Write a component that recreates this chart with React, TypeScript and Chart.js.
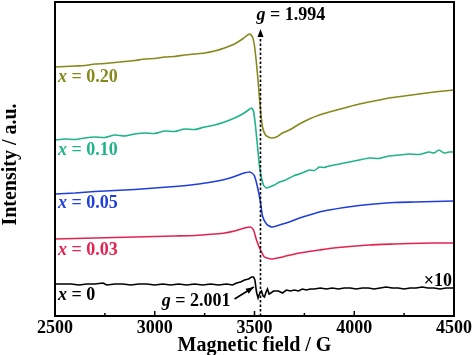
import React, { useEffect, useRef } from "react";
import { Chart, registerables } from "chart.js";

Chart.register(...registerables);

// Magnetic field (G) and EPR intensity (a.u., offset traces)
const fieldX020 = [2500, 2550, 2600, 2650, 2700, 2750, 2800, 2850, 2900, 2950, 3000, 3050, 3100, 3150, 3200, 3250, 3300, 3350, 3400, 3440, 3475, 3490, 3500, 3515, 3530, 3540, 3555, 3570, 3585, 3610, 3640, 3675, 3725, 3775, 3825, 3875, 3950, 4025, 4100, 4175, 4250, 4325, 4400, 4450, 4500];
const intX020 = [249, 249.5, 250, 250.5, 252, 252.5, 253.5, 254.5, 255.5, 257, 257.5, 259, 259.5, 261, 262, 263, 265, 268, 272, 277, 282, 279, 270, 242, 206, 189, 181, 179, 178, 179, 183, 186, 192, 197, 201, 204, 208, 212, 215, 218, 220, 222, 224, 225, 226];

const fieldX010 = [2500, 2550, 2600, 2650, 2700, 2750, 2800, 2850, 2900, 2950, 3000, 3050, 3100, 3150, 3200, 3250, 3300, 3350, 3400, 3440, 3470, 3485, 3495, 3505, 3515, 3525, 3535, 3545, 3560, 3575, 3600, 3625, 3650, 3675, 3700, 3725, 3750, 3775, 3800, 3825, 3850, 3875, 3925, 3975, 4025, 4075, 4125, 4175, 4225, 4275, 4325, 4375, 4400, 4425, 4450, 4475, 4500];
const intX010 = [176, 177, 176.5, 178, 179, 178.5, 181, 180, 182, 183, 182.5, 185, 184.5, 187, 186.5, 189, 191, 194, 198, 202, 206, 208, 205, 190, 170, 150, 138, 131, 128, 129, 131, 134, 135.5, 138, 140.5, 142, 144, 146, 145.5, 149, 148.5, 150, 152, 154, 156, 158, 157.5, 160, 161, 162, 161.5, 164, 163, 166, 163, 164, 164];

const fieldX005 = [2500, 2600, 2700, 2800, 2900, 3000, 3100, 3200, 3300, 3350, 3400, 3440, 3475, 3490, 3500, 3515, 3530, 3540, 3560, 3585, 3625, 3675, 3725, 3775, 3825, 3875, 3950, 4025, 4100, 4200, 4300, 4400, 4500];
const intX005 = [122, 123, 124.5, 125.5, 126.5, 128, 129.5, 131.5, 134.5, 136.5, 139.5, 142.5, 144, 142.5, 140, 129, 114, 100, 92, 89, 91, 94, 98, 101, 104, 106, 108.5, 110.5, 112, 113.5, 114, 114.5, 115];

const fieldX003 = [2500, 2600, 2700, 2800, 2900, 3000, 3100, 3200, 3300, 3350, 3400, 3450, 3480, 3495, 3510, 3530, 3550, 3585, 3640, 3725, 3825, 3875, 3950, 4075, 4200, 4275, 4400, 4500];
const intX003 = [77, 77.5, 78, 78.5, 79, 79.5, 80, 80.5, 82, 83, 85, 88, 89, 86, 76, 66, 59, 57, 59, 63, 66, 67.5, 69, 71, 72, 72.5, 73, 73];

const fieldX0 = [2500, 2540, 2580, 2620, 2660, 2700, 2740, 2760, 2800, 2840, 2880, 2920, 2960, 3000, 3040, 3080, 3120, 3160, 3200, 3240, 3280, 3320, 3360, 3390, 3410, 3430, 3450, 3470, 3485, 3495, 3502, 3510, 3518, 3527, 3535, 3543, 3550, 3558, 3565, 3573, 3582, 3595, 3620, 3640, 3660, 3680, 3700, 3720, 3740, 3760, 3780, 3800, 3830, 3860, 3890, 3920, 3950, 3980, 4010, 4040, 4070, 4100, 4130, 4160, 4190, 4220, 4250, 4280, 4310, 4340, 4370, 4400, 4430, 4460, 4500];
const intX0 = [32, 32, 32, 31, 32, 32, 33, 31, 32, 32, 31, 32, 32, 31, 32, 31, 32, 31, 32, 31, 32, 31, 32, 31, 33, 34, 36, 37, 39, 39, 36, 24, 18, 23, 25, 20, 19, 24, 27, 22, 23, 25, 25, 23, 26, 25, 26, 25, 27, 26, 27, 27, 28, 27, 28, 27, 28, 28, 27, 28, 28, 27, 28, 29, 28, 28, 27, 28, 28, 29, 28, 28, 27, 28, 28];

const seriesNames = ["x = 0.20", "x = 0.10", "x = 0.05", "x = 0.03", "x = 0"];
const seriesColors = ["#84891a", "#1fb38a", "#1f3fdc", "#e3234f", "#000000"];
const labelLevels = [239, 166, 113, 66, 21];
const xTicks = [2500, 3000, 3500, 4000, 4500];

const FONT = "'Liberation Serif', 'Times New Roman', serif";

function pts(xs: number[], ys: number[]) {
  return xs.map((x, i) => ({ x, y: ys[i] }));
}

const annotPlugin = {
  id: "annot",
  afterDraw(chart: any) {
    const ctx = chart.ctx as CanvasRenderingContext2D;
    const xs = chart.scales.x;
    const ys = chart.scales.y;
    const a = chart.chartArea;
    ctx.save();
    // frame
    ctx.strokeStyle = "#000";
    ctx.lineWidth = 2;
    ctx.strokeRect(a.left, a.top, a.right - a.left, a.bottom - a.top);
    // inner ticks
    ctx.lineWidth = 1.5;
    for (let v = 2500; v <= 4500; v += 250) {
      const px = xs.getPixelForValue(v);
      const len = v % 500 === 0 ? 5 : 3;
      ctx.beginPath();
      ctx.moveTo(px, a.bottom);
      ctx.lineTo(px, a.bottom - len);
      ctx.stroke();
    }
    // dashed vertical line
    const dx = xs.getPixelForValue(3530);
    const dTop = ys.getPixelForValue(284);
    ctx.setLineDash([2.5, 2]);
    ctx.lineWidth = 1.6;
    ctx.beginPath();
    ctx.moveTo(dx, a.bottom);
    ctx.lineTo(dx, dTop + 4);
    ctx.stroke();
    ctx.setLineDash([]);
    ctx.fillStyle = "#000";
    ctx.beginPath();
    ctx.moveTo(dx, dTop - 3);
    ctx.lineTo(dx - 3, dTop + 5);
    ctx.lineTo(dx + 3, dTop + 5);
    ctx.closePath();
    ctx.fill();

    // mixed italic/bold label
    const drawLabel = (italic: string, rest: string, x: number, y: number, color: string) => {
      ctx.fillStyle = color;
      ctx.textBaseline = "middle";
      ctx.textAlign = "left";
      ctx.font = `italic bold 18px ${FONT}`;
      ctx.fillText(italic, x, y);
      const w = ctx.measureText(italic).width;
      ctx.font = `bold 18px ${FONT}`;
      ctx.fillText(rest, x + w, y);
    };
    seriesNames.forEach((n, i) => {
      drawLabel("x", n.slice(1), a.left + 3, ys.getPixelForValue(labelLevels[i]), seriesColors[i]);
    });
    drawLabel("g", " = 1.994", xs.getPixelForValue(3510), ys.getPixelForValue(301), "#000");
    drawLabel("g", " = 2.001", xs.getPixelForValue(3035), ys.getPixelForValue(15), "#000");
    ctx.font = `bold 18px ${FONT}`;
    ctx.textAlign = "right";
    ctx.fillText("\u00d710", a.right - 2, ys.getPixelForValue(35));

    // arrow for g = 2.001
    const ax0 = xs.getPixelForValue(3400), ay0 = ys.getPixelForValue(17);
    const ax1 = xs.getPixelForValue(3497), ay1 = ys.getPixelForValue(29);
    ctx.lineWidth = 1.5;
    ctx.beginPath();
    ctx.moveTo(ax0, ay0);
    ctx.lineTo(ax1, ay1);
    ctx.stroke();
    const ang = Math.atan2(ay1 - ay0, ax1 - ax0);
    ctx.beginPath();
    ctx.moveTo(ax1, ay1);
    ctx.lineTo(ax1 - 8 * Math.cos(ang) + 3 * Math.sin(ang), ay1 - 8 * Math.sin(ang) - 3 * Math.cos(ang));
    ctx.lineTo(ax1 - 8 * Math.cos(ang) - 3 * Math.sin(ang), ay1 - 8 * Math.sin(ang) + 3 * Math.cos(ang));
    ctx.closePath();
    ctx.fill();

    // axis titles
    ctx.fillStyle = "#000";
    ctx.font = `bold 20px ${FONT}`;
    ctx.textAlign = "center";
    ctx.textBaseline = "alphabetic";
    ctx.fillText("Magnetic field / G", (a.left + a.right) / 2, 351);
    ctx.translate(15.5, 164.5);
    ctx.rotate(-Math.PI / 2);
    ctx.fillText("Intensity / a.u.", 0, 0);
    ctx.restore();
  },
};

export default function App() {
  const ref = useRef<HTMLCanvasElement | null>(null);
  useEffect(() => {
    if (!ref.current) return;
    const sets = [
      pts(fieldX020, intX020),
      pts(fieldX010, intX010),
      pts(fieldX005, intX005),
      pts(fieldX003, intX003),
      pts(fieldX0, intX0),
    ];
    const chart = new Chart(ref.current, {
      type: "line",
      data: {
        datasets: sets.map((d, i) => ({
          label: seriesNames[i],
          data: d,
          borderColor: seriesColors[i],
          borderWidth: 1.6,
          pointRadius: 0,
          fill: false,
          tension: i === 4 ? 0 : 0.2,
        })),
      },
      options: {
        animation: false,
        responsive: false,
        maintainAspectRatio: false,
        layout: { padding: { top: 2, right: 19, left: 0, bottom: 0 } },
        plugins: { legend: { display: false }, tooltip: { enabled: false } },
        scales: {
          x: {
            type: "linear",
            min: 2500,
            max: 4500,
            afterFit: (ax: any) => { ax.height = 39; },
            afterBuildTicks: (ax: any) => { ax.ticks = xTicks.map((v) => ({ value: v })); },
            grid: { display: false, drawTicks: false },
            border: { display: false },
            ticks: {
              padding: 2,
              color: "#000",
              font: { family: FONT, size: 18, weight: "bold" },
              maxRotation: 0,
              autoSkip: false,
              callback: (v: any) => String(v),
            },
          },
          y: {
            min: 0,
            max: 314,
            afterFit: (ax: any) => { ax.width = 55; },
            grid: { display: false, drawTicks: false },
            border: { display: false },
            ticks: { display: false },
          },
        },
      } as any,
      plugins: [annotPlugin],
    });
    return () => chart.destroy();
  }, []);
  return (
    <div style={{ position: "absolute", left: 0, top: 0, width: 474, height: 355, background: "#fff" }}>
      <canvas ref={ref} width={474} height={355} />
    </div>
  );
}
